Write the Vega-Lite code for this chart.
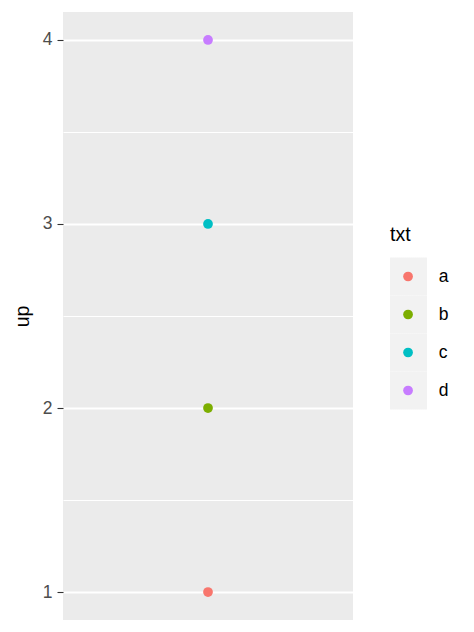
{
  "$schema": "https://vega.github.io/schema/vega-lite/v6.json",
  "width": 290,
  "height": 608,
  "autosize": {"type": "none"},
  "padding": {"left": 63, "top": 12, "right": 121, "bottom": 12},
  "background": "white",
  "data": {
    "values": [
      {"txt": "a", "up": 1},
      {"txt": "b", "up": 2},
      {"txt": "c", "up": 3},
      {"txt": "d", "up": 4}
    ]
  },
  "encoding": {
    "x": {"datum": 1, "type": "quantitative", "scale": {"domain": [0, 2]}, "axis": null},
    "y": {
      "field": "up",
      "type": "quantitative",
      "scale": {"domain": [0.848, 4.152], "nice": false, "zero": false}
    }
  },
  "layer": [
    {
      "mark": {"type": "point", "opacity": 0},
      "encoding": {
        "y": {
          "field": "up",
          "type": "quantitative",
          "axis": {
            "orient": "left",
            "values": [1.5, 2.5, 3.5],
            "title": null,
            "labels": false,
            "ticks": false,
            "domain": false,
            "grid": true,
            "gridColor": "white",
            "gridWidth": 1.1
          }
        }
      }
    },
    {
      "mark": {"type": "circle", "size": 95, "opacity": 1},
      "encoding": {
        "y": {
          "field": "up",
          "type": "quantitative",
          "axis": {
            "orient": "left",
            "values": [1, 2, 3, 4],
            "title": "up",
            "format": "d",
            "domain": false,
            "grid": true,
            "gridColor": "white",
            "gridWidth": 2.2,
            "ticks": true,
            "tickColor": "#333333",
            "tickWidth": 1.1,
            "tickSize": 6,
            "labelPadding": 5,
            "labelColor": "#4D4D4D",
            "labelFont": "Liberation Sans",
            "labelFontSize": 17.5,
            "titleFont": "Liberation Sans",
            "titleFontSize": 19.5,
            "titleFontWeight": "normal",
            "titleColor": "black",
            "titlePadding": 10
          }
        },
        "color": {
          "field": "txt",
          "type": "nominal",
          "scale": {"range": ["#F8766D", "#7CAE00", "#00BFC4", "#C77CFF"]},
          "legend": {
            "title": "txt",
            "orient": "none",
            "legendX": 327,
            "legendY": 214,
            "padding": 0,
            "titleFont": "Liberation Sans",
            "titleFontSize": 19.5,
            "titleFontWeight": "normal",
            "titleColor": "black",
            "titlePadding": 12,
            "labelFont": "Liberation Sans",
            "labelFontSize": 17.5,
            "labelColor": "black",
            "labelOffset": 22,
            "symbolType": "circle",
            "symbolSize": 95,
            "symbolStrokeWidth": 0,
            "symbolOffset": 9.3,
            "clipHeight": 38,
            "rowPadding": 0,
            "encoding": {
              "entries": {
                "fill": {
                  "value": {
                    "gradient": "linear",
                    "x1": 0,
                    "y1": 0,
                    "x2": 1,
                    "y2": 0,
                    "stops": [
                      {"offset": 0, "color": "#F2F2F2"},
                      {"offset": 0.638, "color": "#F2F2F2"},
                      {"offset": 0.638, "color": "#FFFFFF"},
                      {"offset": 1, "color": "#FFFFFF"}
                    ]
                  }
                },
                "height": {"value": 38}
              }
            }
          }
        }
      }
    }
  ],
  "resolve": {"axis": {"y": "independent"}},
  "config": {
    "view": {"fill": "#EBEBEB", "stroke": null},
    "font": "Liberation Sans"
  }
}
